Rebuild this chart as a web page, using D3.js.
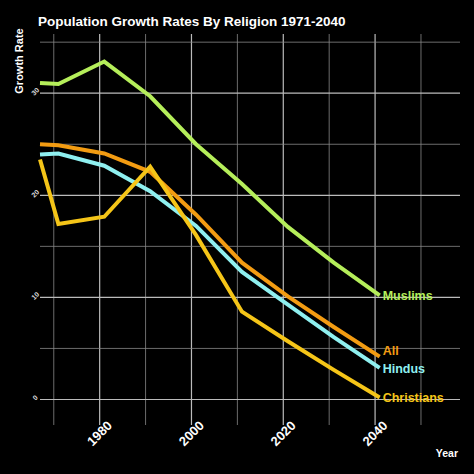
<!DOCTYPE html><html><head><meta charset="utf-8"><script src="https://cdn.jsdelivr.net/npm/d3@7"></script>
<style>body{margin:0;background:#000}svg{display:block;font-family:"Liberation Sans",Arial,sans-serif}</style></head><body><svg width="474" height="474"></svg><script>
const years=[1967,1971,1981,1991,2001,2011,2021,2031,2041];
const muslims=[31.0,30.9,33.1,29.7,25.0,21.1,16.9,13.4,10.2];
const all=[25.0,24.9,24.1,22.3,18.1,13.4,10.1,7.1,4.2];
const hindus=[24.0,24.1,22.9,20.4,17.0,12.5,9.3,6.1,3.1];
const christians=[23.5,17.2,17.9,22.8,16.1,8.6,5.7,2.9,0.2];
const seriesNames=["Muslims","All","Hindus","Christians"];
const colors=["#b5ee5a","#f39c12","#8ff0f0","#f5c518"];
const xTicks=[1980,2000,2020,2040],yTicks=[0,10,20,30];
const data=[muslims,all,hindus,christians];
const svg=d3.select("svg");
svg.append("rect").attr("width",474).attr("height",474).attr("fill","#000");
const x=d3.scaleLinear().domain([1967,2058.5]).range([40,460]);
const y=d3.scaleLinear().domain([-2.5,35.8]).range([425,34]);
const g=svg.append("g");
d3.range(1970,2060,10).forEach(v=>g.append("line").attr("x1",x(v)).attr("x2",x(v)).attr("y1",34).attr("y2",425).attr("stroke",v%20==0?"#bbb":"#888").attr("stroke-width",v%20==0?1.2:0.8));
d3.range(0,36,5).forEach(v=>g.append("line").attr("y1",y(v)).attr("y2",y(v)).attr("x1",40).attr("x2",460).attr("stroke",v%10==0?"#bbb":"#888").attr("stroke-width",v%10==0?1.2:0.8));
yTicks.forEach(v=>svg.append("text").attr("transform",`translate(${37},${y(v)}) rotate(-45)`).attr("text-anchor","middle").attr("fill","#ddd").attr("font-size",7).attr("font-weight","bold").text(v));
xTicks.forEach(v=>svg.append("text").attr("transform",`translate(${x(v)+5},${418}) rotate(-45)`).attr("text-anchor","end").attr("dy","0.9em").attr("fill","#fff").attr("font-size",13).attr("font-weight","bold").text(v));
const line=d3.line().x((d,i)=>x(years[i])).y(d=>y(d));
data.forEach((s,k)=>{
 svg.append("path").datum(s).attr("d",line).attr("fill","none").attr("stroke",colors[k]).attr("stroke-width",4).attr("stroke-linejoin","miter");
});
const labY=[10.2,4.8,3.0,0.2];
seriesNames.forEach((n,k)=>svg.append("text").attr("x",x(2041)+3).attr("y",y(labY[k])).attr("dy","0.35em").attr("fill",colors[k]).attr("font-size",12.5).attr("font-weight","bold").text(n));
svg.append("text").attr("x",38).attr("y",26).attr("fill","#fff").attr("font-size",13.5).attr("font-weight","bold").text("Population Growth Rates By Religion 1971-2040");
svg.append("text").attr("transform","translate(23,61) rotate(-90)").attr("text-anchor","middle").attr("fill","#fff").attr("font-size",11).attr("font-weight","bold").text("Growth Rate");
svg.append("text").attr("x",458).attr("y",457).attr("text-anchor","end").attr("fill","#fff").attr("font-size",10.5).attr("font-weight","bold").text("Year");
</script></body></html>
